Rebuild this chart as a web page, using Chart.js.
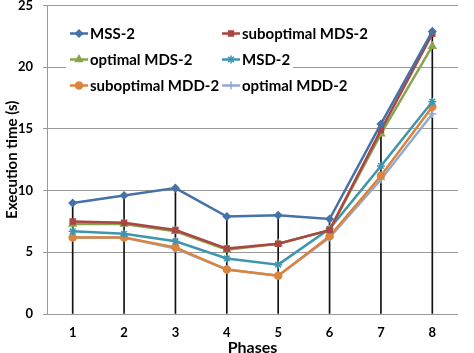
<!DOCTYPE html>
<html>
<head>
<meta charset="utf-8">
<script src="https://cdn.jsdelivr.net/npm/chart.js@4.4.1/dist/chart.umd.min.js"></script>
<style>
  html, body { margin: 0; padding: 0; background: #fff; overflow: hidden; }
  #wrap { width: 474px; height: 353px; }
</style>
</head>
<body>
<div id="wrap"><canvas id="myChart"></canvas></div>
<script>
// values
const phases = ['1', '2', '3', '4', '5', '6', '7', '8'];
const mss2    = [9.0, 9.6, 10.2, 7.9, 8.0, 7.7, 15.4, 22.9];
const subMds2 = [7.5, 7.4, 6.8, 5.3, 5.7, 6.8, 14.9, 22.7];
const optMds2 = [7.3, 7.3, 6.7, 5.2, 5.7, 6.8, 14.6, 21.7];
const msd2    = [6.7, 6.5, 5.9, 4.5, 4.0, 6.9, 12.0, 17.2];
const subMdd2 = [6.2, 6.2, 5.4, 3.6, 3.1, 6.3, 11.2, 16.8];
const optMdd2 = [6.2, 6.2, 5.3, 3.6, 3.1, 6.2, 10.9, 16.2];
const yTicks = [0, 5, 10, 15, 20, 25];

const FONT = 'Lato';
const allSeries = [mss2, subMds2, optMds2, msd2, subMdd2, optMdd2];
// drop lines go from the axis up to the highest point of each phase
const dropLines = phases.map((p, i) => [0, Math.max(...allSeries.map(s => s[i]))]);

function series(label, data, color, style, radius) {
  return {
    type: 'line',
    label: label,
    data: data,
    borderColor: color,
    backgroundColor: color,
    pointBackgroundColor: color,
    pointBorderColor: color,
    borderWidth: 2.5,
    pointStyle: style,
    pointRadius: radius,
    pointBorderWidth: 1.5,
    tension: 0,
    order: 1
  };
}

// legend drawn inside the plot in two columns like the original
const insideLegend = {
  id: 'insideLegend',
  afterDatasetsDraw(chart) {
    const ctx = chart.ctx;
    const sets = chart.data.datasets.filter(d => d.type === 'line');
    const top = chart.chartArea.top;
    const cols = [70, 222];
    const rows = [top + 28, top + 54, top + 80];
    ctx.save();
    ctx.font = 'bold 15px ' + FONT;
    ctx.textBaseline = 'middle';
    rows.forEach((y, r) => {
      const last = sets[r * 2 + 1];
      const right = cols[1] + 21 + ctx.measureText(last.label).width + 2;
      ctx.fillStyle = '#fff';
      ctx.fillRect(cols[0] - 4, y - 12, right - cols[0] + 4, 24);
    });
    sets.forEach((d, i) => {
      const x = cols[i % 2];
      const y = rows[Math.floor(i / 2)];
      ctx.strokeStyle = d.borderColor;
      ctx.fillStyle = d.borderColor;
      ctx.lineWidth = 2.5;
      ctx.beginPath();
      ctx.moveTo(x, y);
      ctx.lineTo(x + 18, y);
      ctx.stroke();
      ctx.lineWidth = 1.5;
      Chart.helpers.drawPoint(ctx, {
        pointStyle: d.pointStyle, radius: d.pointRadius, rotation: 0, borderWidth: 1.5
      }, x + 9, y);
      ctx.fillStyle = '#000';
      ctx.fillText(d.label, x + 20, y + 1);
    });
    ctx.restore();
  }
};

const ctx = document.getElementById('myChart').getContext('2d');
const myChart = new Chart(ctx, {
  data: {
    labels: phases,
    datasets: [
      series('MSS-2', mss2, '#4572A7', 'rectRot', 3.5),
      series('suboptimal MDS-2', subMds2, '#AA4643', 'rect', 3.5),
      series('optimal MDS-2', optMds2, '#89A54E', 'triangle', 4),
      series('MSD-2', msd2, '#3D96AE', 'star', 4),
      series('suboptimal MDD-2', subMdd2, '#DB843D', 'circle', 3.5),
      series('optimal MDD-2', optMdd2, '#93A9CF', 'cross', 4),
      {
        type: 'bar',
        label: 'drop',
        data: dropLines,
        backgroundColor: '#111',
        barThickness: 1,
        order: 5
      }
    ]
  },
  options: {
    responsive: true,
    maintainAspectRatio: false,
    animation: false,
    layout: { padding: { left: 0, right: 16, top: 5, bottom: 0 } },
    plugins: {
      legend: { display: false },
      tooltip: { enabled: false }
    },
    scales: {
      x: {
        offset: true,
        afterFit: s => { s.height = 39; s.paddingLeft = 0; s.paddingRight = 0; },
        grid: { display: false, drawTicks: false, tickLength: 0 },
        border: { display: false },
        ticks: { color: '#000', font: { family: FONT, size: 13, weight: 'bold' }, padding: 11 },
        title: {
          display: true, text: 'Phases', color: '#000',
          font: { family: FONT, size: 16, weight: 'bold' }, padding: { top: 0, bottom: -4 }
        }
      },
      y: {
        min: yTicks[0],
        max: yTicks[yTicks.length - 1],
        afterBuildTicks: axis => { axis.ticks = yTicks.map(v => ({ value: v })); },
        afterFit: s => { s.width = 47; s.paddingTop = 0; s.paddingBottom = 0; },
        grid: { color: '#9a9a9a', lineWidth: 1, tickLength: 4 },
        border: { color: '#9a9a9a' },
        ticks: { color: '#000', font: { family: FONT, size: 13, weight: 'bold' }, padding: 10 },
        title: {
          display: true, text: 'Execution time (s)', color: '#000',
          font: { family: FONT, size: 15, weight: 'bold' }, padding: { top: 3, bottom: 0 }
        }
      }
    }
  },
  plugins: [insideLegend]
});
</script>
</body>
</html>
